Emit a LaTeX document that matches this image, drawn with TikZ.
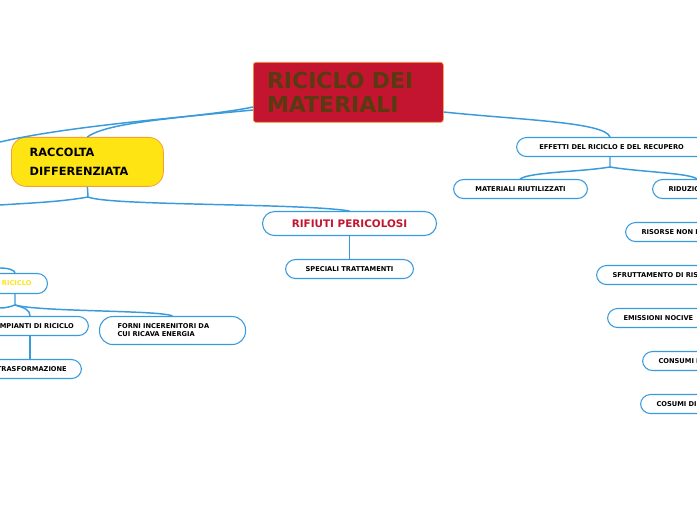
\documentclass[tikz,border=0pt]{standalone}
\usepackage{fontspec}
\setmainfont{DejaVu Sans}
\definecolor{lnk}{HTML}{3A9BDC}
\definecolor{crim}{HTML}{C41530}
\definecolor{brn}{HTML}{5A3A10}
\definecolor{yel}{HTML}{FFE414}
\definecolor{org}{HTML}{F5A030}
\begin{document}
\begin{tikzpicture}[x=0.75pt,y=-0.75pt,
  sz/.style 2 args={minimum width=#1*0.75pt, minimum height=#2*0.75pt},
  leaf/.style={draw=lnk, line width=0.8pt, fill=white, rounded corners=7.5pt, inner sep=0pt,
     font=\fontsize{5}{6}\selectfont\bfseries, text=black, align=left},
  rleaf/.style={leaf, anchor=north west, inner xsep=12pt, minimum height=19*0.75pt, text width=120pt},
  lleaf/.style={leaf, anchor=north east, inner xsep=12pt, minimum height=19*0.75pt},
  lnkline/.style={draw=lnk, line width=1.1pt}]
\useasboundingbox (0,0) rectangle (697,520);
\clip (0,0) rectangle (697,520);
\fill[white] (0,0) rectangle (697,520);
% nodes
\node[sz={190}{60}, fill=crim, draw=org, line width=0.5pt, rounded corners=2pt, anchor=north west,
  text=brn, font=\fontsize{16.5}{18}\selectfont\bfseries, align=left, text width=180*0.75pt, inner sep=0pt]
  (main) at (253,62) {\hspace*{6.5pt}RICICLO DEI\\\hspace*{6.5pt}MATERIALI};
\node[sz={152}{49}, fill=yel, draw=org, line width=0.6pt, rounded corners=11pt, anchor=north west,
  font=\fontsize{8.5}{14}\selectfont\bfseries, align=left, text width=118*0.75pt, inner sep=0pt]
  (rac) at (11,137) {\hspace*{1pt}RACCOLTA\\\hspace*{1pt}DIFFERENZIATA};
\node[leaf, sz={174}{24}, rounded corners=9pt, anchor=north west, text=crim,
  font=\fontsize{7.8}{9}\selectfont\bfseries] (rif) at (262,211) {RIFIUTI PERICOLOSI};
\node[leaf, sz={128}{19}, anchor=north west] (spe) at (285,259) {SPECIALI TRATTAMENTI};
\node[lleaf, minimum height=20*0.75pt, text=yel] (ric) at (48,273) {\hspace*{50pt}RICICLO};
\node[lleaf, inner xsep=11pt] (imp) at (89,316) {IMPIANTI DI RICICLO};
\node[leaf, sz={146}{28}, rounded corners=10pt, anchor=north west, text width=110*0.75pt] (for) at (99,316) {FORNI INCERENITORI DA\\CUI RICAVA ENERGIA};
\node[lleaf, inner xsep=11pt] (tra) at (82,359) {TRASFORMAZIONE};
\node[leaf, sz={190}{19}, anchor=north west] (eff) at (516,137) {EFFETTI DEL RICICLO E DEL RECUPERO};
\node[leaf, sz={134}{19}, anchor=north west] (mat) at (453,179) {MATERIALI RIUTILIZZATI};
\node[rleaf] (rid) at (652,179) {RIDUZIONE};
\node[rleaf] (ris) at (625,222) {RISORSE NON RINNOVABILI};
\node[rleaf] (sfr) at (596,265) {SFRUTTAMENTO DI RISORSE};
\node[rleaf] (emi) at (607,308) {EMISSIONI NOCIVE};
\node[rleaf] (con) at (642,351) {CONSUMI ENERGETICI};
\node[rleaf] (cos) at (640,394) {COSUMI DI ACQUA};
% connectors
\coordinate (lft1) at (0,142);
\coordinate (lft2) at (0,205);
\coordinate (lft3) at (0,268);
\coordinate (lft4) at (0,308);
\draw[lnkline] (main.west |- 0,107) .. controls (200,118) and (110,120) .. (rac.north);
\draw[lnkline] (main.west |- 0,110) .. controls (150,120) and (60,128) .. (lft1);
\draw[lnkline] (main.east |- 0,112) .. controls (520,120) and (605,122) .. (eff.north -| 610,0);
\draw[lnkline] (rac.south) -- (88,197) .. controls (60,202) and (30,203) .. (lft2);
\draw[lnkline] (88,197) .. controls (110,206) and (300,203) .. (rif.north);
\draw[lnkline] (rif.south) -- (spe.north);
\draw[lnkline] (lft3) .. controls (8,268) and (15,270) .. (ric.north -| 15,0);
\draw[lnkline] (ric.south -| 15,0) -- (15,305) .. controls (25,308) and (30,310) .. (imp.north -| 30,0);
\draw[lnkline] (15,305) .. controls (40,312) and (160,310) .. (for.north);
\draw[lnkline] (15,305) .. controls (10,307) and (5,308) .. (lft4);
\draw[lnkline] (imp.south -| 30,0) -- (tra.north -| 30,0);
\draw[lnkline] (eff.south -| 610,0) -- (610,167) .. controls (580,172) and (530,172) .. (mat.north -| 520,0);
\draw[lnkline] (610,167) .. controls (640,172) and (690,173) .. (rid.north -| 697,0);
\end{tikzpicture}
\end{document}
